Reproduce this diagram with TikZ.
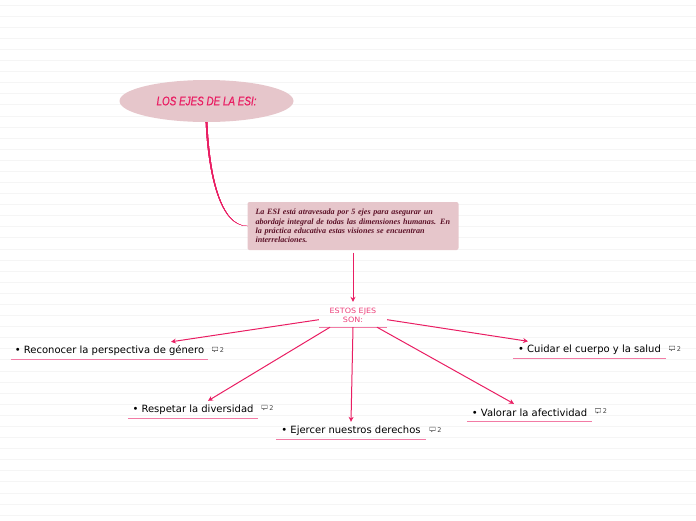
\documentclass[tikz,border=0pt]{standalone}
\usepackage{fontspec}
\setmainfont{DejaVu Sans}
\newfontfamily\boxfont{Liberation Serif}
\newfontfamily\titlefont[ItalicFeatures={FakeStretch=0.79,FakeBold=0.5}]{Liberation Sans}
\newfontfamily\sonfont[FakeStretch=1.1]{DejaVu Sans}
\usetikzlibrary{arrows.meta,positioning,shapes.geometric}
\definecolor{rosebox}{HTML}{E6C6CB}
\definecolor{rosedeep}{HTML}{E91E63}
\definecolor{roseline}{HTML}{F27BA5}
\definecolor{wine}{HTML}{5C1127}
\definecolor{ruled}{HTML}{F5F5F5}
\tikzset{
	link/.style={draw=rosedeep, line width=1pt, -{Stealth[length=5pt,width=5pt]}},
	topic/.style={inner sep=0pt, minimum height=17pt, font=\fontsize{10}{12}\selectfont},
	notecount/.style={inner sep=0pt, text=black!75, font=\fontsize{6.5}{7}\selectfont}
}
\newcommand{\noteicon}{\tikz[x=1pt,y=1pt,baseline=0pt]{\draw[line width=0.35pt] (0,1.5) rectangle (5.5,5) (1.8,1.5) -- (1.8,0.3) -- (3.1,1.5);}}
\newcommand{\topicline}[1]{\draw[roseline, line width=1.4pt] (#1.south west) -- (#1.south east);}
\begin{document}
\begin{tikzpicture}[x=1pt,y=-1pt]
	\useasboundingbox (0,0) rectangle (696,520);
	% ruled paper
	\foreach \yline in {0,...,46}
		\draw[ruled, line width=0.8pt] (0,5+11.09*\yline) -- (696,5+11.09*\yline);
	% main shapes
	\node[ellipse, fill=rosebox, minimum width=174pt, minimum height=42pt, inner sep=0pt,
		font=\titlefont\itshape\fontsize{12.5}{14}\selectfont, text=rosedeep] (ejes) at (206.5,101) {LOS EJES DE LA ESI:};
	\node[fill=rosebox, rounded corners=2pt, minimum width=211pt, minimum height=48pt, inner xsep=8pt, inner ysep=0pt,
		text width=195pt, align=left, text=wine, font=\boxfont\itshape\bfseries\fontsize{8.1}{9.4}\selectfont] (esi) at (353,226)
		{La ESI está atravesada por 5 ejes para asegurar un\\ abordaje integral de todas las dimensiones humanas. En\\ la práctica educativa estas visiones se encuentran\\ interrelaciones.};
	\node[minimum width=68pt, minimum height=23pt, inner sep=0pt, align=center, text=rosedeep!85!white,
		font=\sonfont\fontsize{7.3}{9.6}\selectfont] (son) at (353,315.5) {ESTOS EJES\\SON:};
	% topics
	\node[topic, minimum width=197pt] (genero) at (109.5,350.5) {• Reconocer la perspectiva de género};
	\node[topic, minimum width=130pt] (diversidad) at (193,409.5) {• Respetar la diversidad};
	\node[topic, minimum width=150pt] (derechos) at (351,430.5) {• Ejercer nuestros derechos};
	\node[topic, minimum width=125pt] (afectividad) at (529.5,412.5) {• Valorar la afectividad};
	\node[topic, minimum width=153pt] (salud) at (589.5,350) {• Cuidar el cuerpo y la salud};
	% note counts
	\foreach \nname/\nx/\ny in {genero/218/349.5, diversidad/267.5/407.5, derechos/435.5/429.5, afectividad/601/411, salud/675/348.5}
		\node[notecount] (\nname-note) at (\nx,\ny) {\noteicon\hspace{1.8pt}2};
	% underlines
	\topicline{son}
	\foreach \tname in {genero,diversidad,derechos,afectividad,salud}
		\topicline{\tname}
	% connectors
	\fill[rosedeep] ([xshift=-0.8pt]ejes.south) .. controls (208.2,175) and (220,226.3) .. (esi.west)
		.. controls (220.6,226) and (209.6,175) .. ([xshift=0.8pt]ejes.south) -- cycle;
	\draw[link] ([yshift=-2.5pt]esi.south) -- ([yshift=2pt]son.north);
	\draw[link] (son.187) -- ([xshift=61.5pt]genero.north);
	\draw[link] (son.207) -- ([xshift=15pt]diversidad.north);
	\draw[link] (son.south) -- (derechos.north);
	\draw[link] (son.334) -- ([xshift=-15.5pt]afectividad.north);
	\draw[link] (son.353) -- ([xshift=-61.5pt]salud.north);
\end{tikzpicture}
\end{document}
